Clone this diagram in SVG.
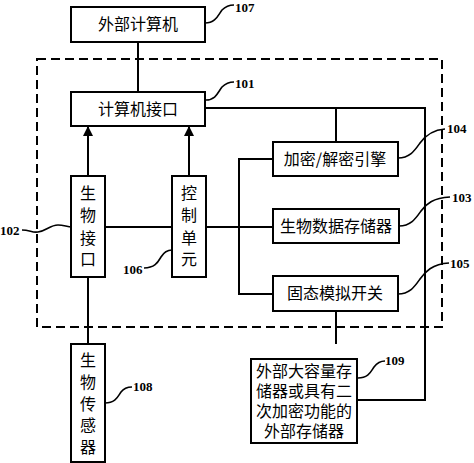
<svg xmlns="http://www.w3.org/2000/svg" width="474" height="463" viewBox="0 0 474 463">
<defs>
<style>
.box{fill:#fff;stroke:#000;stroke-width:2}
.ln{fill:none;stroke:#000;stroke-width:2}
.ld{fill:none;stroke:#000;stroke-width:1.6}
.t{font-family:"Noto Sans CJK SC","Liberation Sans",sans-serif;font-size:16px;fill:#000;text-anchor:middle}
.t2{font-family:"Liberation Sans","Noto Sans CJK SC",sans-serif;font-size:16px;fill:#000;text-anchor:middle}
.lb{font-family:"Liberation Serif",serif;font-size:13px;font-weight:bold;fill:#000}
</style>
<marker id="arr" viewBox="0 0 10 10" refX="9" refY="5" markerWidth="5" markerHeight="5" orient="auto" markerUnits="strokeWidth">
<path d="M0,0 L10,5 L0,10 z" fill="#000"/>
</marker>
</defs>
<rect width="474" height="463" fill="#fff"/>
<rect x="37" y="59" width="405" height="268" fill="none" stroke="#000" stroke-width="2" stroke-dasharray="9 5"/>
<g id="connectors">
<path class="ln" d="M138,42 V92"/>
<path class="ln" d="M205,108 H425 V400 H357"/>
<path class="ln" d="M336,108 V142"/>
<path class="ln" d="M88,176 V127" marker-end="url(#arr)"/>
<path class="ln" d="M189,176 V127" marker-end="url(#arr)"/>
<path class="ln" d="M105,227 H172"/>
<path class="ln" d="M206,227 H273"/>
<path class="ln" d="M273,159 H239 V294 H273"/>
<path class="ln" d="M88,277 V344"/>
<path class="ln" d="M336,311 V344"/>
<path class="ld" d="M205,23 C216,23 218,15 222,10 C226,6 229,5 234,5"/>
<path class="ld" d="M206,100 C216,100 218,92 222,87 C226,83 229,82 234,82"/>
<path class="ld" d="M398,158 C410,158 415,150 420,143 C425,136 432,130 445,129"/>
<path class="ld" d="M399,226 C411,226 416,218 421,211 C426,204 433,198 450,197"/>
<path class="ld" d="M398,294 C410,294 415,286 420,279 C425,272 432,264 449,263"/>
<path class="ld" d="M22,230 C30,230 32,233 38,232 C46,231 50,225 58,225 C64,225 67,227 72,227"/>
<path class="ld" d="M144,268 C155,268 158,262 161,257 C164,252 167,250 172,250"/>
<path class="ld" d="M105,403 C116,403 118,396 121,392 C124,388 127,387 132,387"/>
<path class="ld" d="M358,378 C369,378 371,371 374,367 C377,363 380,361 385,361"/>
</g>
<g id="n107"><rect class="box" x="71" y="7" width="134" height="35"/><text class="t" x="138" y="30">外部计算机</text><text class="lb" x="235" y="12">107</text></g>
<g id="n101"><rect class="box" x="71" y="92" width="134" height="34"/><text class="t" x="138" y="115">计算机接口</text><text class="lb" x="235" y="88">101</text></g>
<g id="n104"><rect class="box" x="273" y="142" width="125" height="34"/><text class="t" x="335" y="165">加密/解密引擎</text><text class="lb" x="447" y="133">104</text></g>
<g id="n103"><rect class="box" x="273" y="209" width="126" height="34"/><text class="t" x="336" y="232">生物数据存储器</text><text class="lb" x="452" y="202">103</text></g>
<g id="n105"><rect class="box" x="273" y="276" width="125" height="35"/><text class="t" x="335" y="299">固态模拟开关</text><text class="lb" x="450" y="268">105</text></g>
<g id="n102"><rect class="box" x="71" y="176" width="34" height="101"/>
<text class="t2" x="88" y="199">生</text><text class="t2" x="88" y="221">物</text><text class="t2" x="88" y="244">接</text><text class="t2" x="88" y="265">口</text>
<text class="lb" x="0" y="235">102</text></g>
<g id="n106"><rect class="box" x="172" y="176" width="34" height="101"/>
<text class="t2" x="189" y="199">控</text><text class="t2" x="189" y="221">制</text><text class="t2" x="189" y="244">单</text><text class="t2" x="189" y="265">元</text>
<text class="lb" x="123" y="274">106</text></g>
<g id="n108"><rect class="box" x="71" y="344" width="34" height="118"/>
<text class="t2" x="88" y="366">生</text><text class="t2" x="88" y="388">物</text><text class="t2" x="88" y="410">传</text><text class="t2" x="88" y="431">感</text><text class="t2" x="88" y="453">器</text>
<text class="lb" x="133" y="391">108</text></g>
<g id="n109"><rect class="box" x="251" y="359" width="106" height="84"/>
<text class="t2" x="304" y="377">外部大容量存</text><text class="t2" x="304" y="397">储器或具有二</text><text class="t2" x="304" y="417">次加密功能的</text><text class="t2" x="304" y="437">外部存储器</text>
<text class="lb" x="385" y="365">109</text></g>
</svg>
